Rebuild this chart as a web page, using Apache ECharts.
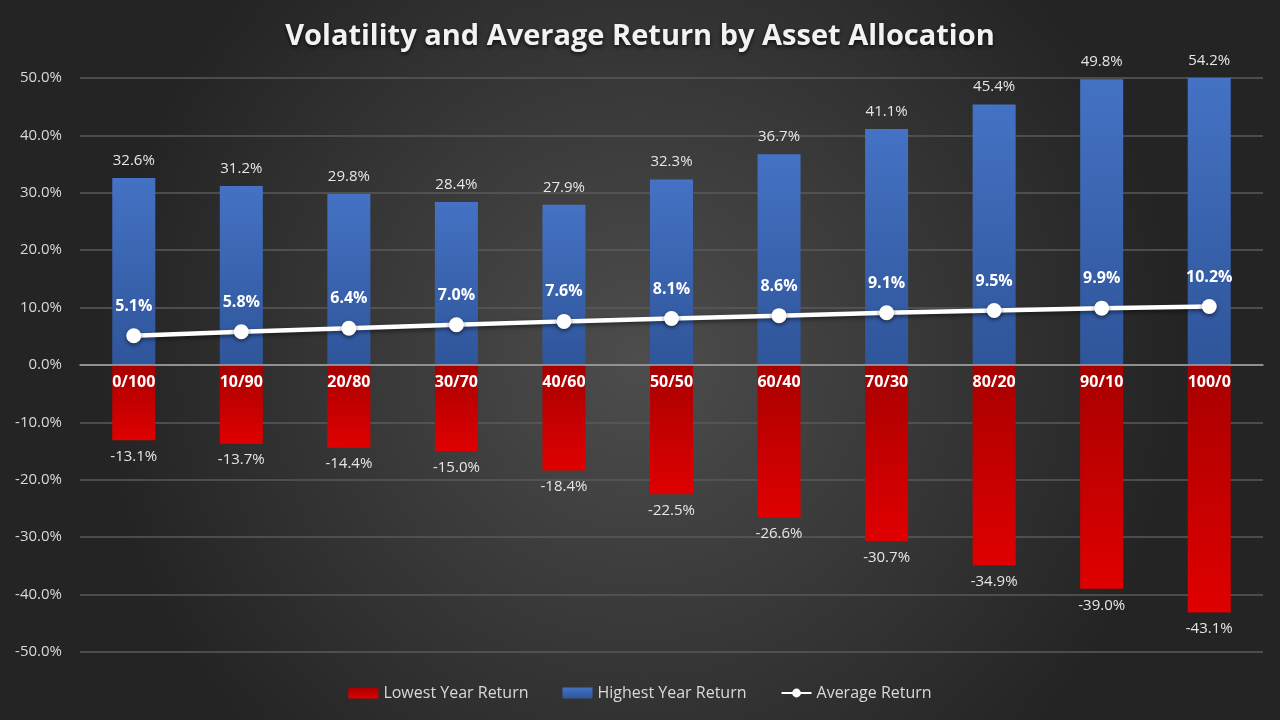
<!DOCTYPE html>
<html>
<head>
<meta charset="utf-8">
<script src="https://cdn.jsdelivr.net/npm/echarts@6/dist/echarts.min.js"></script>
<style>
html,body{margin:0;padding:0;background:#333;}
#chart{width:1280px;height:720px;}
</style>
</head>
<body>
<div id="chart"></div>
<script>
// allocation mixes (stocks/bonds)
var allocations = ['0/100','10/90','20/80','30/70','40/60','50/50','60/40','70/30','80/20','90/10','100/0'];
var lowestReturn = [-13.1,-13.7,-14.4,-15.0,-18.4,-22.5,-26.6,-30.7,-34.9,-39.0,-43.1];
var highestReturn = [32.6,31.2,29.8,28.4,27.9,32.3,36.7,41.1,45.4,49.8,54.2];
var averageReturn = [5.1,5.8,6.4,7.0,7.6,8.1,8.6,9.1,9.5,9.9,10.2];

var myChart = echarts.init(document.getElementById('chart'));
var pct = function(p){ return p.value.toFixed(1) + '%'; };

var gridTop = 78, gridBottom = 68;
// move the category axis up to the zero line (axis is symmetric, -50..50)
var zeroOffset = -(720 - gridTop - gridBottom) / 2;

var option = {
	backgroundColor : {
		type : 'radial', x : 0.5, y : 0.5, r : 0.75,
		colorStops : [ { offset : 0, color : '#4d4d4d' }, { offset : 1, color : '#242424' } ]
	},
	title : {
		text : 'Volatility and Average Return by Asset Allocation',
		left : 'center',
		top : 17,
		textStyle : {
			color : '#f2f2f2', fontSize : 29, fontWeight : 'bold',
			fontFamily : 'Open Sans',
			textShadowColor : 'rgba(0,0,0,0.7)', textShadowBlur : 4, textShadowOffsetY : 2
		}
	},
	legend : {
		bottom : 14,
		left : 'center',
		itemGap : 34,
		itemWidth : 30,
		itemHeight : 11,
		textStyle : { color : '#d9d9d9', fontSize : 16, fontFamily : 'Open Sans' },
		data : [
			{ name : 'Lowest Year Return', icon : 'rect' },
			{ name : 'Highest Year Return', icon : 'rect' },
			{ name : 'Average Return' }
		]
	},
	grid : { left : 80, right : 17, top : gridTop, bottom : gridBottom, containLabel : false },
	xAxis : {
		type : 'category',
		data : allocations,
		z : 10,
		position : 'bottom',
		offset : zeroOffset,
		axisLine : { onZero : false, lineStyle : { color : '#a6a6a6', width : 1.5 } },
		axisTick : { show : false },
		axisLabel : { color : '#ffffff', fontWeight : 'bold', fontSize : 16, margin : 9, fontFamily : 'Open Sans' }
	},
	yAxis : {
		type : 'value',
		min : -50, max : 50, interval : 10,
		axisLine : { show : false },
		axisTick : { show : false },
		splitLine : { lineStyle : { color : '#5a5a5a', width : 1.5 } },
		axisLabel : {
			color : '#d9d9d9', fontSize : 15, margin : 18,
			fontFamily : 'Open Sans',
			formatter : function(v){ return v.toFixed(1) + '%'; }
		}
	},
	series : [
		{
			name : 'Lowest Year Return',
			type : 'bar',
			data : lowestReturn,
			barWidth : '40%',
			barGap : '-100%',
			clip : true,
			itemStyle : {
				color : new echarts.graphic.LinearGradient(0, 0, 0, 1, [
					{ offset : 0, color : '#a80000' }, { offset : 1, color : '#e00000' }
				])
			},
			label : { show : true, position : 'bottom', distance : 9, color : '#e6e6e6', fontSize : 15, fontFamily : 'Open Sans', formatter : pct }
		},
		{
			name : 'Highest Year Return',
			type : 'bar',
			data : highestReturn,
			barWidth : '40%',
			clip : true,
			itemStyle : {
				color : new echarts.graphic.LinearGradient(0, 0, 0, 1, [
					{ offset : 0, color : '#4472c4' }, { offset : 1, color : '#2f559a' }
				])
			},
			label : { show : true, position : 'top', distance : 10, color : '#e6e6e6', fontSize : 15, fontFamily : 'Open Sans', formatter : pct }
		},
		{
			name : 'Average Return',
			type : 'line',
			data : averageReturn,
			z : 5,
			symbol : 'circle',
			symbolSize : 15,
			lineStyle : { color : '#ffffff', width : 4.5, shadowColor : 'rgba(0,0,0,0.5)', shadowBlur : 4, shadowOffsetY : 2 },
			itemStyle : { color : '#ffffff', shadowColor : 'rgba(0,0,0,0.5)', shadowBlur : 4, shadowOffsetY : 2 },
			label : { show : true, position : 'top', distance : 14, color : '#ffffff', fontWeight : 'bold', fontSize : 16, fontFamily : 'Open Sans', formatter : pct }
		}
	]
};
myChart.setOption(option);
</script>
</body>
</html>
